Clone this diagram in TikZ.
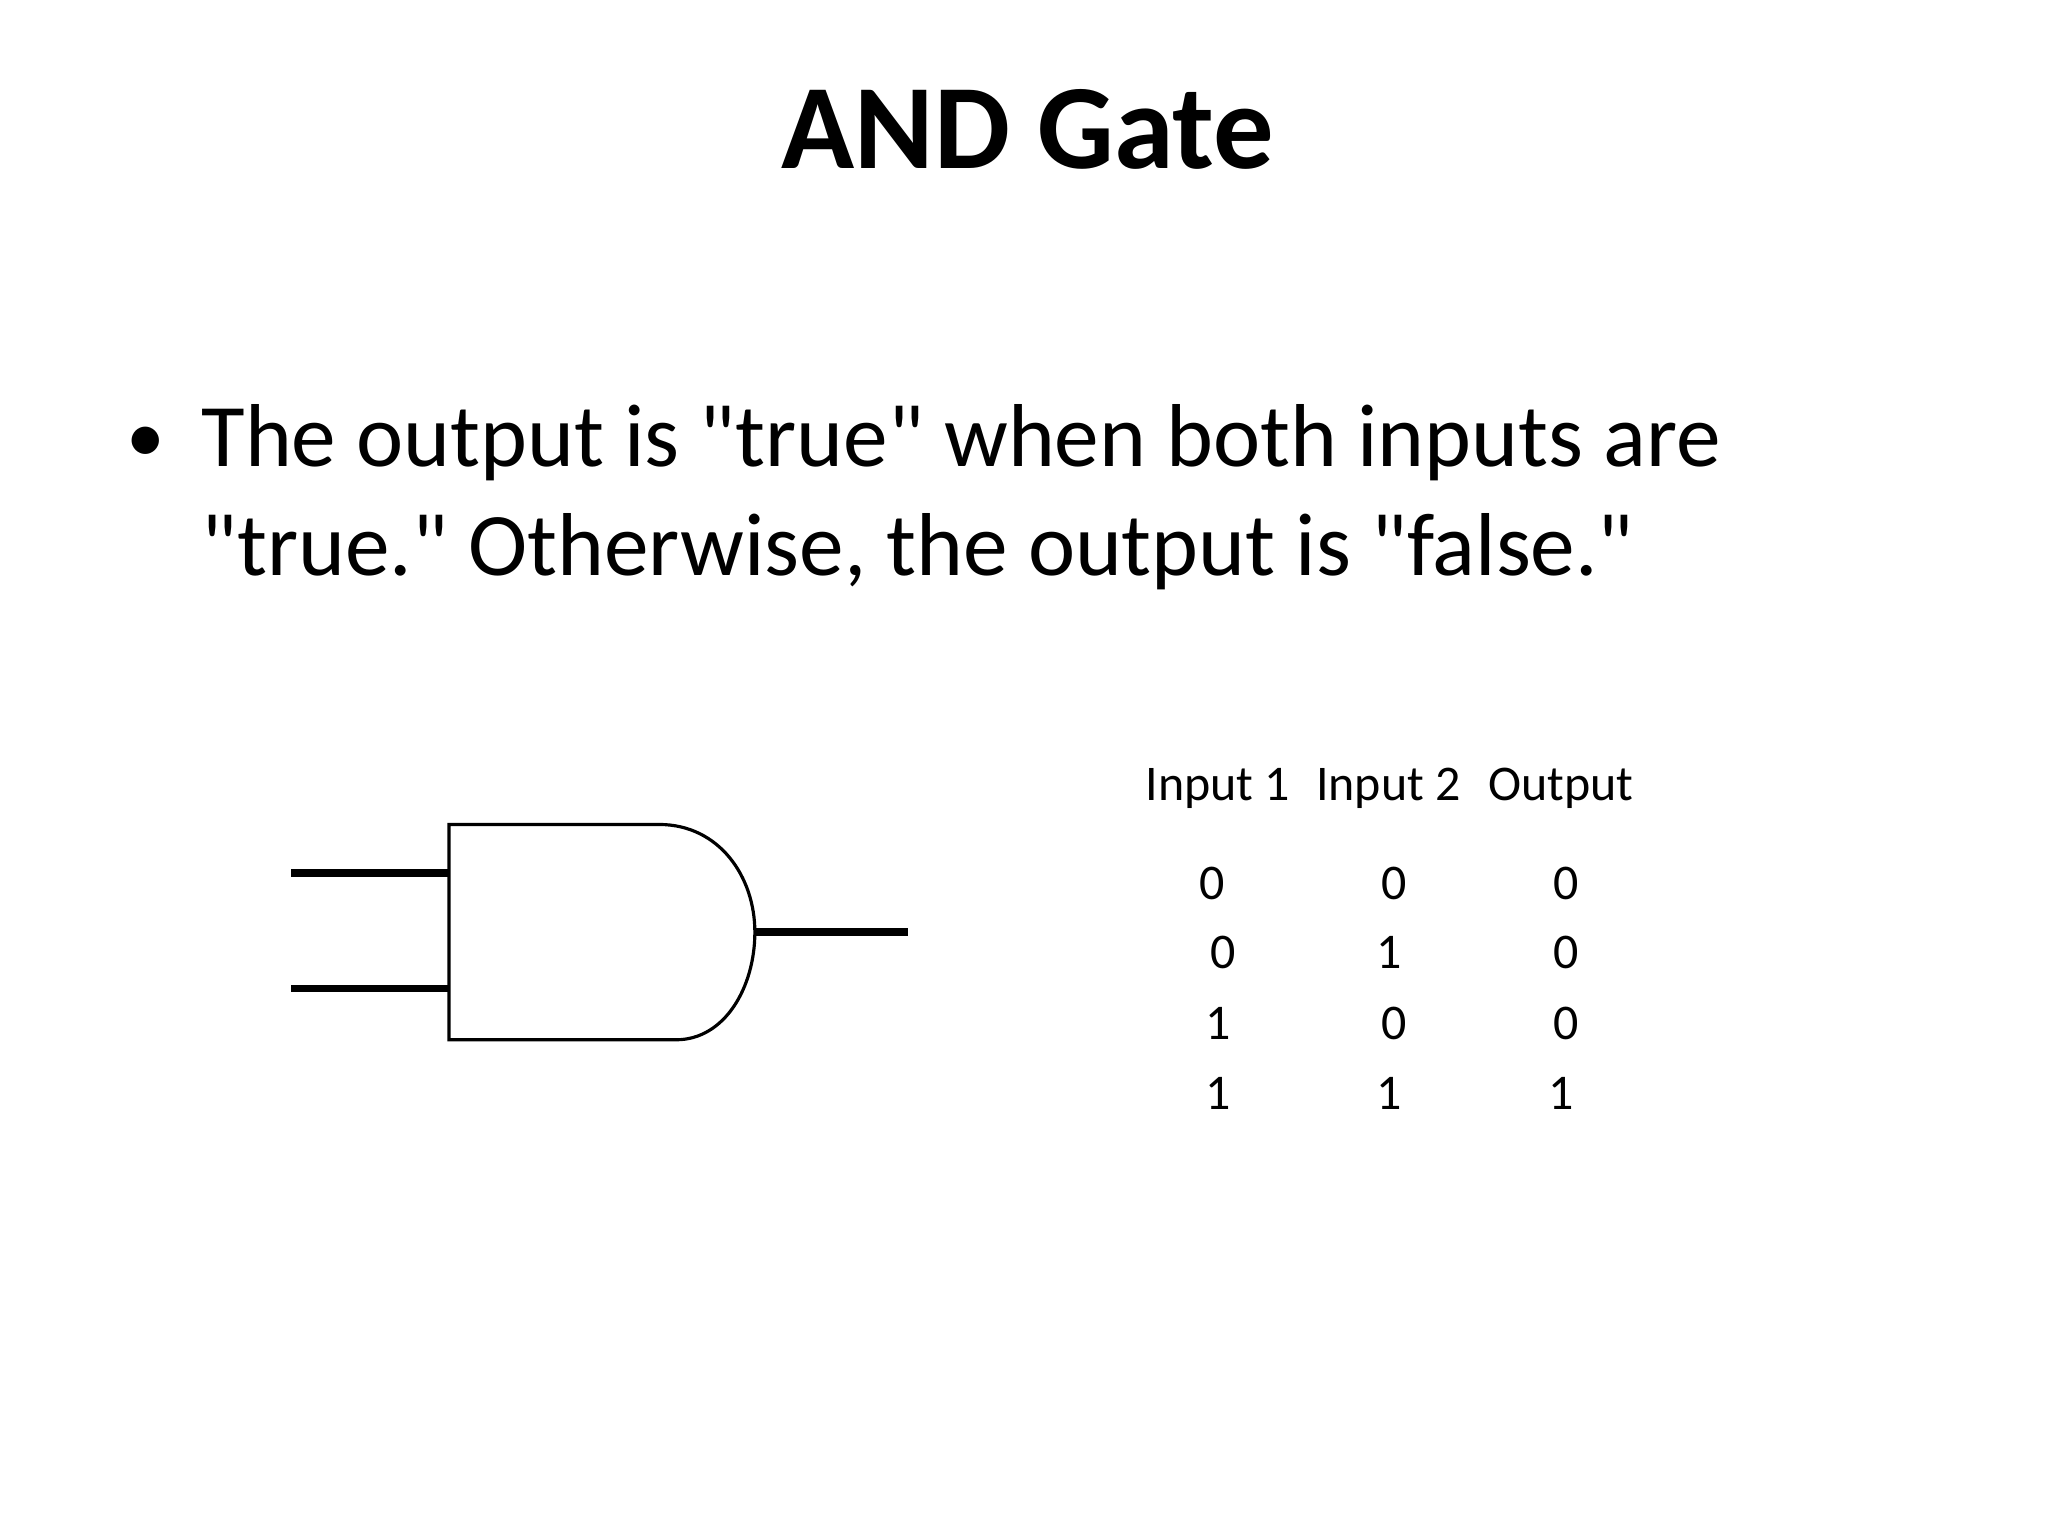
\documentclass[tikz,border=0pt]{standalone}
\usepackage{fontspec}
\setmainfont{Carlito}[Ligatures=TeXOff]
\newcommand{\dq}{\symbol{34}}
\begin{document}
\begin{tikzpicture}[x=0.013128cm,y=-0.013128cm,
  tt/.style={font=\fontsize{34.3}{40}\selectfont\bfseries,anchor=base,inner sep=0},
  body/.style={font=\fontsize{25.4}{30}\selectfont,anchor=base west,inner sep=0},
  tab/.style={font=\fontsize{14.2}{17}\selectfont,anchor=base,inner sep=0},
  wire/.style={line width=2.2pt},
  gate/.style={line width=0.9pt}]
\useasboundingbox (0,0) rectangle (1560,1170);
\node[tt] (title) at (783,128) {AND Gate};
\node[body,font=\fontsize{22}{30}\selectfont] (bul) at (96,352) {\textbullet};
\node[body] (l1) at (153,355) {The output is \dq true\dq{} when both inputs are};
\node[body] (l2) at (153,438) {\dq true.\dq{} Otherwise, the output is \dq false.\dq};
% gate
\coordinate (a) at (342,628);
\coordinate (b) at (502,628);
\coordinate (o) at (575,710);
\coordinate (c) at (515,792);
\coordinate (d) at (342,792);
\draw[gate] (c) -- (d) -- (a) -- (b) .. controls (548,628) and (575,668) .. (o) .. controls (575,752) and (552,792) .. (c);
\coordinate (i1) at (222,665); \coordinate (g1) at (342,665);
\coordinate (i2) at (222,753); \coordinate (g2) at (342,753);
\coordinate (out) at (692,710);
\draw[wire] (i1) -- (g1);
\draw[wire] (i2) -- (g2);
\draw[wire] (o) -- (out);
% table
\node[tab,anchor=base west] (h1) at (872,610) {Input 1};
\node[tab,anchor=base west] (h2) at (1002,610) {Input 2};
\node[tab,anchor=base west] (h3) at (1133,610) {Output};
\node[tab] (r11) at (923,685) {0}; \node[tab] (r12) at (1062,685) {0}; \node[tab] (r13) at (1193,685) {0};
\node[tab] (r21) at (932,738) {0}; \node[tab] (r22) at (1058,738) {1}; \node[tab] (r23) at (1193,738) {0};
\node[tab] (r31) at (928,792) {1}; \node[tab] (r32) at (1062,792) {0}; \node[tab] (r33) at (1193,792) {0};
\node[tab] (r41) at (928,845) {1}; \node[tab] (r42) at (1058,845) {1}; \node[tab] (r43) at (1189,845) {1};
\end{tikzpicture}
\end{document}
